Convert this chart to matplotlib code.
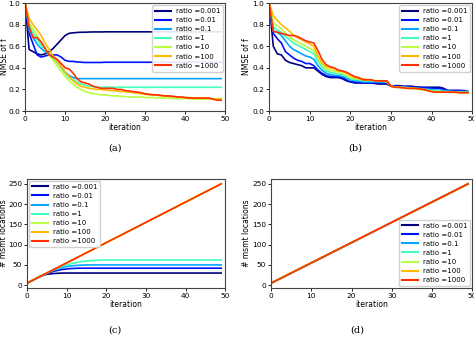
import matplotlib
matplotlib.use('Agg')
import matplotlib.pyplot as plt
import numpy as np

ratios = ['0.001', '0.01', '0.1', '1', '10', '100', '1000']
iters = np.arange(50)

# (a) NMSE of f
a_r0001 = [1.00, 0.57, 0.55, 0.53, 0.52, 0.53, 0.55, 0.58, 0.62, 0.66,
           0.70, 0.72, 0.725, 0.728, 0.730, 0.730, 0.732, 0.733, 0.733, 0.733,
           0.734, 0.734, 0.734, 0.734, 0.734, 0.734, 0.734, 0.734, 0.734, 0.734,
           0.734, 0.734, 0.734, 0.734, 0.734, 0.734, 0.734, 0.734, 0.734, 0.734,
           0.734, 0.734, 0.734, 0.734, 0.734, 0.734, 0.734, 0.734, 0.734, 0.734]
a_r001 = [1.00, 0.72, 0.62, 0.52, 0.50, 0.51, 0.52, 0.52, 0.52, 0.50,
          0.47, 0.46, 0.46, 0.455, 0.452, 0.45, 0.45, 0.45, 0.45, 0.45,
          0.452, 0.452, 0.452, 0.452, 0.452, 0.452, 0.452, 0.452, 0.452, 0.452,
          0.452, 0.452, 0.452, 0.452, 0.452, 0.452, 0.452, 0.452, 0.452, 0.452,
          0.452, 0.452, 0.452, 0.452, 0.452, 0.452, 0.452, 0.452, 0.452, 0.452]
a_r01 = [1.00, 0.75, 0.68, 0.62, 0.58, 0.55, 0.53, 0.50, 0.46, 0.41,
         0.36, 0.33, 0.31, 0.30, 0.30, 0.30, 0.30, 0.30, 0.30, 0.30,
         0.30, 0.30, 0.30, 0.30, 0.30, 0.30, 0.30, 0.30, 0.30, 0.30,
         0.30, 0.30, 0.30, 0.30, 0.30, 0.30, 0.30, 0.30, 0.30, 0.30,
         0.30, 0.30, 0.30, 0.30, 0.30, 0.30, 0.30, 0.30, 0.30, 0.30]
a_r1 = [1.00, 0.80, 0.72, 0.66, 0.61, 0.57, 0.53, 0.49, 0.45, 0.40,
        0.35, 0.31, 0.29, 0.27, 0.25, 0.24, 0.23, 0.225, 0.22, 0.22,
        0.22, 0.22, 0.22, 0.22, 0.22, 0.22, 0.22, 0.22, 0.22, 0.22,
        0.22, 0.22, 0.22, 0.22, 0.22, 0.22, 0.22, 0.22, 0.22, 0.22,
        0.22, 0.22, 0.22, 0.22, 0.22, 0.22, 0.22, 0.22, 0.22, 0.22]
a_r10 = [1.00, 0.82, 0.76, 0.70, 0.64, 0.58, 0.52, 0.47, 0.42, 0.37,
         0.32, 0.28, 0.25, 0.22, 0.20, 0.18, 0.17, 0.16, 0.155, 0.15,
         0.15, 0.145, 0.14, 0.14, 0.135, 0.135, 0.13, 0.13, 0.13, 0.13,
         0.125, 0.125, 0.125, 0.12, 0.12, 0.12, 0.12, 0.115, 0.115, 0.115,
         0.115, 0.115, 0.11, 0.11, 0.11, 0.11, 0.11, 0.11, 0.115, 0.12]
a_r100 = [1.00, 0.86, 0.80, 0.75, 0.70, 0.63, 0.57, 0.51, 0.46, 0.41,
          0.36, 0.32, 0.28, 0.25, 0.23, 0.22, 0.21, 0.205, 0.20, 0.20,
          0.195, 0.19, 0.19, 0.185, 0.18, 0.18, 0.175, 0.17, 0.165, 0.16,
          0.155, 0.15, 0.15, 0.145, 0.14, 0.14, 0.135, 0.135, 0.13, 0.13,
          0.125, 0.125, 0.12, 0.12, 0.12, 0.12, 0.115, 0.11, 0.11, 0.11]
a_r1000 = [1.00, 0.78, 0.68, 0.68, 0.64, 0.58, 0.52, 0.50, 0.48, 0.44,
           0.40, 0.39, 0.35, 0.30, 0.27, 0.26, 0.25, 0.23, 0.22, 0.21,
           0.21, 0.21, 0.21, 0.20, 0.20, 0.19, 0.185, 0.18, 0.175, 0.17,
           0.16, 0.155, 0.15, 0.15, 0.145, 0.14, 0.14, 0.135, 0.13, 0.13,
           0.125, 0.12, 0.12, 0.12, 0.12, 0.12, 0.12, 0.11, 0.10, 0.10]

# (b) NMSE of f
b_r0001 = [1.00, 0.60, 0.53, 0.52, 0.47, 0.45, 0.44, 0.43, 0.42, 0.40,
           0.40, 0.40, 0.37, 0.34, 0.32, 0.31, 0.31, 0.31, 0.30, 0.28,
           0.27, 0.26, 0.26, 0.26, 0.26, 0.26, 0.255, 0.25, 0.25, 0.25,
           0.23, 0.235, 0.235, 0.23, 0.23, 0.23, 0.225, 0.22, 0.22, 0.22,
           0.22, 0.22, 0.22, 0.21, 0.19, 0.19, 0.19, 0.19, 0.19, 0.18]
b_r001 = [1.00, 0.72, 0.67, 0.63, 0.55, 0.52, 0.49, 0.47, 0.46, 0.44,
          0.44, 0.42, 0.38, 0.35, 0.33, 0.32, 0.32, 0.32, 0.31, 0.29,
          0.27, 0.27, 0.265, 0.26, 0.26, 0.26, 0.26, 0.26, 0.26, 0.26,
          0.23, 0.23, 0.23, 0.225, 0.225, 0.22, 0.22, 0.22, 0.215, 0.215,
          0.21, 0.21, 0.21, 0.20, 0.19, 0.19, 0.19, 0.19, 0.185, 0.18]
b_r01 = [1.00, 0.74, 0.73, 0.70, 0.65, 0.60, 0.57, 0.55, 0.53, 0.51,
         0.50, 0.48, 0.42, 0.38, 0.35, 0.34, 0.33, 0.33, 0.32, 0.31,
         0.29, 0.28, 0.28, 0.27, 0.27, 0.27, 0.27, 0.27, 0.27, 0.27,
         0.23, 0.225, 0.22, 0.22, 0.22, 0.215, 0.21, 0.21, 0.205, 0.20,
         0.20, 0.195, 0.19, 0.19, 0.185, 0.18, 0.18, 0.18, 0.18, 0.18]
b_r1 = [1.00, 0.78, 0.75, 0.73, 0.69, 0.66, 0.63, 0.61, 0.59, 0.57,
        0.55, 0.53, 0.46, 0.41, 0.37, 0.36, 0.35, 0.34, 0.34, 0.32,
        0.30, 0.29, 0.29, 0.28, 0.28, 0.28, 0.28, 0.275, 0.275, 0.275,
        0.23, 0.225, 0.22, 0.22, 0.215, 0.21, 0.21, 0.205, 0.20, 0.195,
        0.19, 0.19, 0.185, 0.18, 0.18, 0.18, 0.175, 0.175, 0.175, 0.175]
b_r10 = [1.00, 0.82, 0.79, 0.76, 0.72, 0.69, 0.66, 0.64, 0.62, 0.60,
         0.58, 0.56, 0.49, 0.43, 0.39, 0.38, 0.37, 0.36, 0.35, 0.33,
         0.31, 0.30, 0.30, 0.29, 0.29, 0.285, 0.28, 0.28, 0.28, 0.28,
         0.23, 0.22, 0.22, 0.215, 0.21, 0.21, 0.205, 0.20, 0.195, 0.19,
         0.185, 0.18, 0.18, 0.175, 0.175, 0.175, 0.175, 0.17, 0.17, 0.17]
b_r100 = [1.00, 0.88, 0.84, 0.80, 0.77, 0.74, 0.70, 0.68, 0.66, 0.64,
          0.62, 0.60, 0.51, 0.45, 0.41, 0.40, 0.39, 0.37, 0.37, 0.35,
          0.33, 0.31, 0.30, 0.30, 0.29, 0.29, 0.28, 0.28, 0.28, 0.27,
          0.23, 0.22, 0.22, 0.215, 0.21, 0.21, 0.21, 0.205, 0.20, 0.19,
          0.18, 0.175, 0.175, 0.175, 0.175, 0.175, 0.17, 0.17, 0.17, 0.17]
b_r1000 = [1.00, 0.74, 0.73, 0.72, 0.71, 0.70, 0.70, 0.69, 0.67, 0.65,
           0.64, 0.63, 0.56, 0.48, 0.43, 0.41, 0.40, 0.38, 0.37, 0.36,
           0.34, 0.32, 0.31, 0.29, 0.29, 0.29, 0.28, 0.28, 0.28, 0.28,
           0.23, 0.22, 0.22, 0.215, 0.21, 0.21, 0.21, 0.205, 0.20, 0.19,
           0.18, 0.175, 0.175, 0.175, 0.175, 0.175, 0.175, 0.17, 0.17, 0.17]

# (c), (d) number of measurement locations
locs_linear = [5, 10, 15, 20, 25, 30, 35, 40, 45, 50,
               55, 60, 65, 70, 75, 80, 85, 90, 95, 100,
               105, 110, 115, 120, 125, 130, 135, 140, 145, 150,
               155, 160, 165, 170, 175, 180, 185, 190, 195, 200,
               205, 210, 215, 220, 225, 230, 235, 240, 245, 250]
c_r0001 = [5, 10, 15, 20, 24, 27, 28, 29, 29.5, 30,
           30, 30, 30, 30, 30, 30, 30, 30, 30, 30,
           30, 30, 30, 30, 30, 30, 30, 30, 30, 30,
           30, 30, 30, 30, 30, 30, 30, 30, 30, 30,
           30, 30, 30, 30, 30, 30, 30, 30, 30, 30]
c_r001 = [5, 10, 15, 20, 25, 29, 32, 35, 37, 39,
          40, 41, 41.5, 42, 42, 42, 42, 42, 42, 42,
          42, 42, 42, 42, 42, 42, 42, 42, 42, 42,
          42, 42, 42, 42, 42, 42, 42, 42, 42, 42,
          42, 42, 42, 42, 42, 42, 42, 42, 42, 42]
c_r01 = [5, 10, 15, 20, 25, 30, 34, 38, 41, 44,
         46, 47.5, 48.5, 49, 49.5, 50, 50, 50, 50, 50,
         50, 50, 50, 50, 50, 50, 50, 50, 50, 50,
         50, 50, 50, 50, 50, 50, 50, 50, 50, 50,
         50, 50, 50, 50, 50, 50, 50, 50, 50, 50]
c_r1 = [5, 10, 15, 20, 25, 30, 35, 39, 43, 47,
        50, 53, 55, 57, 58.5, 59.5, 60.5, 61, 61.5, 62,
        62, 62, 62, 62, 62, 62, 62, 62, 62, 62,
        62, 62, 62, 62, 62, 62, 62, 62, 62, 62,
        62, 62, 62, 62, 62, 62, 62, 62, 62, 62]

colors = plt.cm.jet(np.linspace(0, 1, 8))[:7]

plt.rcParams['font.size'] = 5.5
plt.rcParams['axes.linewidth'] = 0.8
plt.rcParams['axes.edgecolor'] = '#444444'


def draw_panel(ax, series, ylabel, legend_loc, ylab_x):
    for i in range(len(series)):
        ax.plot(iters, series[i], color=colors[i], lw=1.2, label='ratio =' + ratios[i])
    ax.set_xlim(0, 50)
    ax.set_xlabel('iteration', labelpad=1)
    ax.set_ylabel(ylabel)
    ax.yaxis.set_label_coords(ylab_x, 0.5)
    ax.tick_params(length=2.5, width=0.6, pad=1.0, labelsize=5.3)
    leg = ax.legend(loc=legend_loc, fontsize=5.0, labelspacing=0.45, handlelength=2.3,
                    borderpad=0.4, handletextpad=0.7, framealpha=0.9, borderaxespad=0.3)
    for line in leg.get_lines():
        line.set_linewidth(1.5)


fig = plt.figure(figsize=(4.74, 3.48), dpi=100)
ax_a = fig.add_axes([0.053, 0.681, 0.422, 0.31])
ax_b = fig.add_axes([0.568, 0.681, 0.428, 0.31])
ax_c = fig.add_axes([0.057, 0.172, 0.418, 0.314])
ax_d = fig.add_axes([0.572, 0.172, 0.424, 0.314])

draw_panel(ax_a, [a_r0001, a_r001, a_r01, a_r1, a_r10, a_r100, a_r1000],
           'NMSE of f', 'upper right', -0.082)
draw_panel(ax_b, [b_r0001, b_r001, b_r01, b_r1, b_r10, b_r100, b_r1000],
           'NMSE of f', 'upper right', -0.089)
draw_panel(ax_c, [c_r0001, c_r001, c_r01, c_r1, locs_linear, locs_linear, locs_linear],
           '# msmt locations', 'upper left', -0.095)
draw_panel(ax_d, [locs_linear] * 7, '# msmt locations', 'lower right', -0.1)

for ax in (ax_a, ax_b):
    ax.set_ylim(0, 1.0)

fig.text(0.243, 0.575, '(a)', ha='center', va='center', family='serif', fontsize=7)
fig.text(0.749, 0.575, '(b)', ha='center', va='center', family='serif', fontsize=7)
fig.text(0.243, 0.052, '(c)', ha='center', va='center', family='serif', fontsize=7)
fig.text(0.753, 0.052, '(d)', ha='center', va='center', family='serif', fontsize=7)

fig.savefig('out.png', dpi=100)
